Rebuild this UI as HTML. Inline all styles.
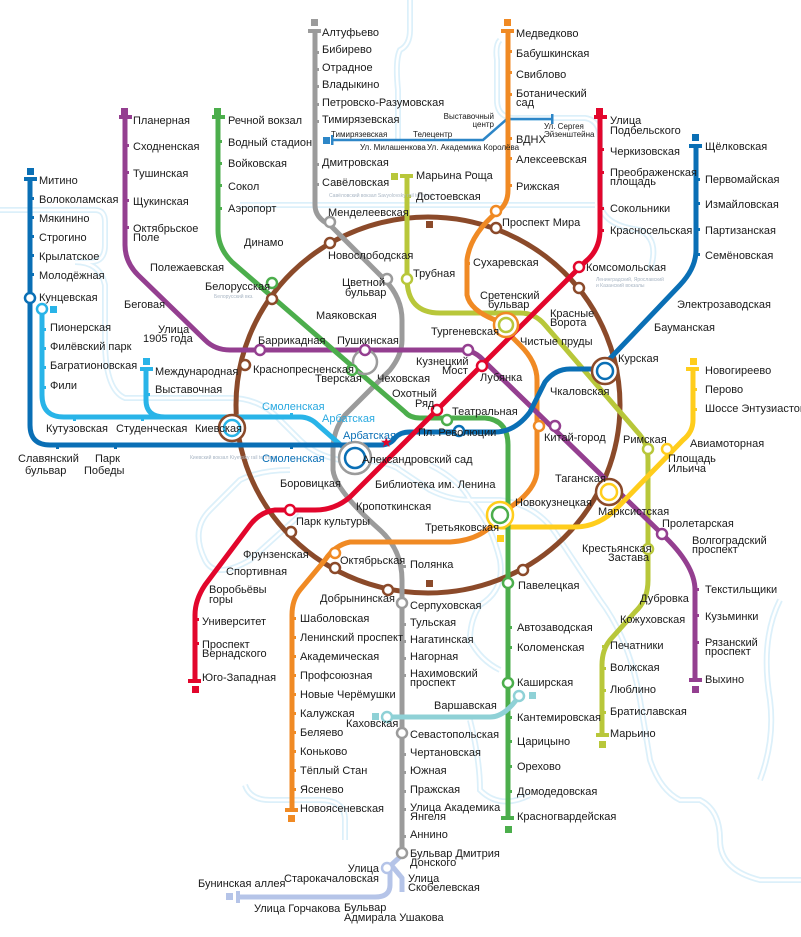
<!DOCTYPE html>
<html><head><meta charset="utf-8"><style>
html,body{margin:0;padding:0;background:#fff}
svg{display:block}
text{font-family:"Liberation Sans",sans-serif;font-size:11px;fill:#1a1a1a}
.s{font-size:8px}
.t{font-size:5px;fill:#a9b6c4}
.r{text-anchor:end}
.ln{fill:none;stroke-width:5;stroke-linejoin:round;stroke-linecap:butt}
.ic{fill:#fff;stroke-width:2.5}
</style></head><body>
<svg width="801" height="937" viewBox="0 0 801 937" xmlns="http://www.w3.org/2000/svg">
<defs>
<g id="riv">
<path d="M0,210 H95 Q105,210 105,222 V245 Q105,262 90,262 H75 Q100,262 105,285 V340 Q105,390 125,398 H230 Q260,398 280,420 L300,440 Q315,455 340,460 H360 Q390,462 400,470 L430,490 Q450,500 470,500 H500 Q540,505 560,540 L600,600 Q630,640 640,700 L650,760 Q660,790 680,800 H700 Q720,810 720,840 Q720,870 760,880 H801"/>
<path d="M290,470 Q260,470 240,480 L210,510 Q190,530 205,560 Q215,580 250,560 L300,515"/>
<path d="M410,0 V30 Q410,45 400,50 Q395,60 398,90 V140"/>
<path d="M500,40 Q495,45 497,60 V100 Q497,120 520,118 H585 Q600,120 600,140"/>
<path d="M595,205 H240"/>
<path d="M245,785 Q250,800 270,800 H320 Q345,800 345,820 V840"/>
<path d="M430,465 Q460,480 470,500 Q490,520 500,560 Q505,590 480,605 Q470,620 470,640 Q480,660 500,670"/>
<path d="M470,720 Q480,760 480,790 Q500,810 530,795"/>
<path d="M780,600 Q760,640 770,700 Q775,740 760,780"/>
<path d="M600,130 V200 Q600,225 640,230 Q660,240 650,270"/>
</g>
</defs>
<g fill="none" stroke="#dcf0fa" stroke-width="6"><use href="#riv"/></g>
<g fill="none" stroke="#ffffff" stroke-width="2.5"><use href="#riv"/></g>

<ellipse cx="428" cy="405" rx="192" ry="188" fill="none" stroke="#8b4a2a" stroke-width="5"/>

<path class="ln" style="stroke:#2d86c7;stroke-width:2.5" d="M333,140 H483 L507,119 H552"/>
<rect x="331" y="135" width="2.5" height="10" fill="#2d86c7"/>
<rect x="551" y="114" width="2.5" height="10" fill="#2d86c7"/>

<path class="ln" stroke="#9b9b9b" d="M315,32 V205 Q315,218 330,225 L385,280 Q402,298 402,320 V340 Q402,355 390,370 L345,415 Q333,430 333,450 V470 Q335,490 380,530 Q402,550 402,580 V855"/>
<path class="ln" stroke="#b8c73a" d="M407,177 V278 Q407,313 440,313 H520 Q535,313 545,325 L640,435 Q648,445 648,460 V580 Q648,600 635,612 L610,640 Q602,650 602,665 V735"/>
<path class="ln" stroke="#f08a24" d="M508,32 V190 Q508,205 497,212 Q470,235 467,260 V295 Q470,310 495,320 L520,345 Q537,362 537,380 V470 Q537,485 520,500 L500,515 Q485,540 450,542 H350 Q335,545 325,560 L300,590 Q292,600 292,615 V810"/>
<path class="ln" stroke="#943f90" d="M125,118 V245 Q125,262 138,275 L205,340 Q215,350 230,350 H462 Q475,350 485,362 L662,534 Q695,565 695,590 V680"/>
<path class="ln" stroke="#ffcd1c" d="M693,370 V420 Q693,432 683,440 L620,505 Q600,527 575,527 H500"/>
<path class="ln" stroke="#4cae4c" d="M218,118 V230 Q218,248 232,262 L405,412 Q410,418 420,418 H485 Q508,420 508,445 V818"/>
<path class="ln" stroke="#29b4e8" d="M42,308 V395 Q42,417 64,417 H300 Q310,417 318,425 L343,447 L355,460"/>
<path class="ln" stroke="#29b4e8" d="M146,370 V400 Q146,417 165,417"/>
<path class="ln" stroke="#0a6fb5" d="M30,180 V425 Q30,445 50,445 H380 Q390,445 395,438 Q400,432 410,432 H495 Q515,432 530,412 L545,382 Q555,369 570,369 H600 L680,285 Q696,268 696,250 V147"/>
<path class="ln" stroke="#e2062c" d="M600,118 V230 Q600,250 585,262 L437,410 L350,497 Q335,510 315,510 H275 Q260,512 250,525 L205,585 Q195,600 195,615 V680"/>
<path class="ln" stroke="#8fd1d6" d="M519,696 Q505,717 490,717 H387"/>
<path class="ln" stroke="#b5c4e8" d="M402,855 L390,866 V885 Q390,897 375,897 H238"/>
<path class="ln" stroke="#b5c4e8" d="M392,866 L402,878 V892"/>

<g>
<rect x="119" y="115" width="13" height="4" fill="#943f90"/>
<rect x="212" y="115" width="13" height="4" fill="#4cae4c"/>
<rect x="308" y="29" width="13" height="4" fill="#9b9b9b"/>
<rect x="501" y="29" width="13" height="4" fill="#f08a24"/>
<rect x="594" y="115" width="13" height="4" fill="#e2062c"/>
<rect x="689" y="144" width="13" height="4" fill="#0a6fb5"/>
<rect x="24" y="177" width="13" height="4" fill="#0a6fb5"/>
<rect x="400" y="174" width="13" height="4" fill="#b8c73a"/>
<rect x="140" y="367" width="13" height="4" fill="#29b4e8"/>
<rect x="686" y="367" width="13" height="4" fill="#ffcd1c"/>
<rect x="188" y="679" width="13" height="4" fill="#e2062c"/>
<rect x="285" y="808" width="13" height="4" fill="#f08a24"/>
<rect x="501" y="816" width="13" height="4" fill="#4cae4c"/>
<rect x="596" y="733" width="13" height="4" fill="#b8c73a"/>
<rect x="689" y="678" width="13" height="4" fill="#943f90"/>
<rect x="236" y="891" width="4" height="12" fill="#b5c4e8"/>
</g>
<g>
<rect x="311" y="19" width="7" height="7" fill="#9b9b9b"/>
<rect x="504" y="19" width="7" height="7" fill="#f08a24"/>
<rect x="121" y="108" width="7" height="7" fill="#943f90"/>
<rect x="214" y="108" width="7" height="7" fill="#4cae4c"/>
<rect x="596" y="108" width="7" height="7" fill="#e2062c"/>
<rect x="692" y="134" width="7" height="7" fill="#0a6fb5"/>
<rect x="27" y="168" width="7" height="7" fill="#0a6fb5"/>
<rect x="50" y="306" width="7" height="7" fill="#29b4e8"/>
<rect x="143" y="358" width="7" height="7" fill="#29b4e8"/>
<rect x="690" y="358" width="7" height="7" fill="#ffcd1c"/>
<rect x="391" y="173" width="7" height="7" fill="#b8c73a"/>
<rect x="426" y="221" width="7" height="7" fill="#8b4a2a"/>
<rect x="426" y="580" width="7" height="7" fill="#8b4a2a"/>
<rect x="497" y="535" width="7" height="7" fill="#ffcd1c"/>
<rect x="192" y="686" width="7" height="7" fill="#e2062c"/>
<rect x="288" y="815" width="7" height="7" fill="#f08a24"/>
<rect x="505" y="826" width="7" height="7" fill="#4cae4c"/>
<rect x="599" y="741" width="7" height="7" fill="#b8c73a"/>
<rect x="692" y="686" width="7" height="7" fill="#943f90"/>
<rect x="529" y="692" width="7" height="7" fill="#8fd1d6"/>
<rect x="372" y="713" width="7" height="7" fill="#8fd1d6"/>
<rect x="226" y="893" width="7" height="7" fill="#b5c4e8"/>
<rect x="323" y="137" width="7" height="7" fill="#2d86c7"/>
</g>

<g fill="#9b9b9b"><rect x="315" y="51" width="4" height="3"/><rect x="315" y="68" width="4" height="3"/><rect x="315" y="85" width="4" height="3"/><rect x="315" y="103" width="4" height="3"/><rect x="315" y="120" width="4" height="3"/><rect x="315" y="163" width="4" height="3"/><rect x="315" y="183" width="4" height="3"/><rect x="402" y="565" width="4" height="3"/><rect x="402" y="623" width="4" height="3"/><rect x="402" y="640" width="4" height="3"/><rect x="402" y="657" width="4" height="3"/><rect x="402" y="674" width="4" height="3"/><rect x="402" y="753" width="4" height="3"/><rect x="402" y="771" width="4" height="3"/><rect x="402" y="790" width="4" height="3"/><rect x="402" y="808" width="4" height="3"/><rect x="402" y="835" width="4" height="3"/></g>
<g fill="#f08a24"><rect x="508" y="50" width="4" height="3"/><rect x="508" y="71" width="4" height="3"/><rect x="508" y="93" width="4" height="3"/><rect x="508" y="137" width="4" height="3"/><rect x="508" y="157" width="4" height="3"/><rect x="508" y="184" width="4" height="3"/><rect x="466" y="262" width="4" height="3"/><rect x="292" y="617" width="4" height="3"/><rect x="292" y="636" width="4" height="3"/><rect x="292" y="655" width="4" height="3"/><rect x="292" y="674" width="4" height="3"/><rect x="292" y="693" width="4" height="3"/><rect x="292" y="712" width="4" height="3"/><rect x="292" y="731" width="4" height="3"/><rect x="292" y="750" width="4" height="3"/><rect x="292" y="769" width="4" height="3"/><rect x="292" y="788" width="4" height="3"/></g>
<g fill="#e2062c"><rect x="600" y="148" width="4" height="3"/><rect x="600" y="171" width="4" height="3"/><rect x="600" y="207" width="4" height="3"/><rect x="600" y="229" width="4" height="3"/><rect x="195" y="618" width="4" height="3"/><rect x="195" y="642" width="4" height="3"/></g>
<g fill="#0a6fb5"><rect x="30" y="197" width="4" height="3"/><rect x="30" y="216" width="4" height="3"/><rect x="30" y="235" width="4" height="3"/><rect x="30" y="254" width="4" height="3"/><rect x="30" y="273" width="4" height="3"/><rect x="696" y="178" width="4" height="3"/><rect x="696" y="202" width="4" height="3"/><rect x="696" y="228" width="4" height="3"/><rect x="696" y="253" width="4" height="3"/><rect x="56" y="445" width="3" height="4"/><rect x="114" y="445" width="3" height="4"/><rect x="290" y="445" width="3" height="4"/></g>
<g fill="#943f90"><rect x="125" y="144" width="4" height="3"/><rect x="125" y="171" width="4" height="3"/><rect x="125" y="199" width="4" height="3"/><rect x="125" y="226" width="4" height="3"/><rect x="695" y="588" width="4" height="3"/><rect x="695" y="614" width="4" height="3"/><rect x="695" y="641" width="4" height="3"/></g>
<g fill="#4cae4c"><rect x="218" y="140" width="4" height="3"/><rect x="218" y="162" width="4" height="3"/><rect x="218" y="184" width="4" height="3"/><rect x="218" y="207" width="4" height="3"/><rect x="508" y="626" width="4" height="3"/><rect x="508" y="646" width="4" height="3"/><rect x="508" y="716" width="4" height="3"/><rect x="508" y="740" width="4" height="3"/><rect x="508" y="765" width="4" height="3"/><rect x="508" y="790" width="4" height="3"/></g>
<g fill="#b8c73a"><rect x="407" y="195" width="4" height="3"/><rect x="602" y="645" width="4" height="3"/><rect x="602" y="667" width="4" height="3"/><rect x="602" y="689" width="4" height="3"/><rect x="602" y="711" width="4" height="3"/></g>
<g fill="#29b4e8"><rect x="42" y="328" width="4" height="3"/><rect x="42" y="347" width="4" height="3"/><rect x="42" y="366" width="4" height="3"/><rect x="42" y="386" width="4" height="3"/><rect x="146" y="393" width="4" height="3"/><rect x="73" y="417" width="3" height="4"/><rect x="141" y="417" width="3" height="4"/><rect x="290" y="413" width="3" height="4"/></g>
<g fill="#ffcd1c"><rect x="693" y="388" width="4" height="3"/><rect x="693" y="408" width="4" height="3"/></g>

<g class="ic">
<circle cx="30" cy="298" r="5" stroke="#0a6fb5"/><circle cx="42" cy="309" r="5" stroke="#29b4e8"/>
<circle cx="272" cy="283" r="5" stroke="#4cae4c"/><circle cx="272" cy="299" r="5" stroke="#8b4a2a"/>
<circle cx="330" cy="222" r="5" stroke="#9b9b9b"/><circle cx="330" cy="243" r="5" stroke="#8b4a2a"/>
<circle cx="387" cy="279" r="5" stroke="#9b9b9b"/><circle cx="407" cy="279" r="5" stroke="#b8c73a"/>
<circle cx="260" cy="350" r="5" stroke="#943f90"/><circle cx="245" cy="365" r="5" stroke="#8b4a2a"/>
<circle cx="365" cy="362" r="12" stroke="#9b9b9b" fill="none"/><circle cx="365" cy="350" r="5" stroke="#943f90"/><circle cx="352" cy="370" r="5" stroke="#4cae4c"/>
<circle cx="232" cy="428" r="13" stroke="#8b4a2a"/><circle cx="232" cy="428" r="8" stroke="#29b4e8" fill="none"/>
<circle cx="355" cy="458" r="16" stroke="#9b9b9b"/><circle cx="355" cy="458" r="10" stroke="#0a6fb5" fill="none"/>
<circle cx="468" cy="350" r="5" stroke="#943f90"/><circle cx="482" cy="366" r="5" stroke="#e2062c"/>
<circle cx="437" cy="410" r="5" stroke="#e2062c"/><circle cx="447" cy="420" r="5" stroke="#4cae4c"/><circle cx="459" cy="431" r="5" stroke="#0a6fb5"/>
<circle cx="506" cy="325" r="12" stroke="#f08a24"/><circle cx="506" cy="325" r="7" stroke="#b8c73a" fill="none"/>
<circle cx="496" cy="211" r="5" stroke="#f08a24"/><circle cx="496" cy="228" r="5" stroke="#8b4a2a"/>
<circle cx="579" cy="267" r="5" stroke="#e2062c"/><circle cx="579" cy="288" r="5" stroke="#8b4a2a"/>
<circle cx="605" cy="371" r="13" stroke="#8b4a2a"/><circle cx="605" cy="371" r="8" stroke="#0a6fb5" fill="none"/>
<circle cx="539" cy="426" r="5" stroke="#f08a24"/><circle cx="555" cy="426" r="5" stroke="#943f90"/>
<circle cx="648" cy="449" r="5" stroke="#b8c73a"/><circle cx="667" cy="449" r="5" stroke="#ffcd1c"/>
<circle cx="609" cy="492" r="13" stroke="#8b4a2a"/><circle cx="609" cy="492" r="8" stroke="#ffcd1c" fill="none"/>
<circle cx="500" cy="515" r="13" stroke="#ffcd1c"/><circle cx="500" cy="515" r="8" stroke="#4cae4c" fill="none"/>
<circle cx="662" cy="534" r="5" stroke="#943f90"/><circle cx="648" cy="549" r="5" stroke="#b8c73a"/>
<circle cx="290" cy="510" r="5" stroke="#e2062c"/><circle cx="291" cy="532" r="5" stroke="#8b4a2a"/>
<circle cx="335" cy="553" r="5" stroke="#f08a24"/><circle cx="335" cy="568" r="5" stroke="#8b4a2a"/>
<circle cx="388" cy="590" r="5" stroke="#8b4a2a"/><circle cx="402" cy="603" r="5" stroke="#9b9b9b"/>
<circle cx="508" cy="583" r="5" stroke="#4cae4c"/><circle cx="523" cy="570" r="5" stroke="#8b4a2a"/>
<circle cx="508" cy="683" r="5" stroke="#4cae4c"/><circle cx="519" cy="696" r="5" stroke="#8fd1d6"/>
<circle cx="387" cy="717" r="5" stroke="#8fd1d6"/><circle cx="402" cy="733" r="5" stroke="#9b9b9b"/>
<circle cx="402" cy="853" r="5" stroke="#9b9b9b"/><circle cx="387" cy="868" r="5" stroke="#b5c4e8"/>
</g>
<text x="380" y="447" style="fill:#e2062c;font-size:14px">★</text>

<g>
<text x="322" y="36">Алтуфьево</text><text x="322" y="53">Бибирево</text><text x="322" y="71">Отрадное</text><text x="322" y="88">Владыкино</text><text x="322" y="106">Петровско-Разумовская</text><text x="322" y="123">Тимирязевская</text>
<text x="331" y="137" class="s">Тимирязевская</text><text x="360" y="150" class="s">Ул. Милашенкова</text>
<text x="322" y="166">Дмитровская</text><text x="322" y="186">Савёловская</text>
<text x="329" y="197" class="t">Савёловский вокзал  Savyolovsky rail terminal</text>
<text x="328" y="216">Менделеевская</text><text x="328" y="259">Новослободская</text>
<text x="342" y="286">Цветной</text><text x="345" y="296">бульвар</text>
<text x="316" y="319">Маяковская</text><text x="337" y="344">Пушкинская</text><text x="315" y="382">Тверская</text><text x="377" y="382">Чеховская</text>
<text x="258" y="344">Баррикадная</text><text x="253" y="373">Краснопресненская</text>
<text x="205" y="290">Белорусская</text><text x="214" y="298" class="t">Белорусский вкз.</text>
<text x="124" y="308">Беговая</text><text x="158" y="333">Улица</text><text x="143" y="342">1905 года</text>
<text x="150" y="271">Полежаевская</text><text x="244" y="246">Динамо</text>
<text x="133" y="124">Планерная</text><text x="133" y="150">Сходненская</text><text x="133" y="177">Тушинская</text><text x="133" y="205">Щукинская</text><text x="133" y="232">Октябрьское</text><text x="133" y="241">Поле</text>
<text x="228" y="124">Речной вокзал</text><text x="228" y="146">Водный стадион</text><text x="228" y="167">Войковская</text><text x="228" y="190">Сокол</text><text x="228" y="212">Аэропорт</text>
<text x="39" y="184">Митино</text><text x="39" y="203">Волоколамская</text><text x="39" y="222">Мякинино</text><text x="39" y="241">Строгино</text><text x="39" y="260">Крылатское</text><text x="39" y="279">Молодёжная</text><text x="39" y="301">Кунцевская</text>
<text x="50" y="331">Пионерская</text><text x="50" y="350">Филёвский парк</text><text x="50" y="369">Багратионовская</text><text x="50" y="389">Фили</text>
<text x="155" y="375">Международная</text><text x="155" y="393">Выставочная</text>
<text x="46" y="432">Кутузовская</text><text x="116" y="432">Студенческая</text><text x="195" y="432">Киевская</text>
<text x="190" y="459" class="t">Киевский вокзал Kiyevsky rail terminal</text>
<text x="262" y="410" style="fill:#29a9e0">Смоленская</text><text x="322" y="422" style="fill:#29a9e0">Арбатская</text>
<text x="343" y="439" style="fill:#0a6fb5">Арбатская</text><text x="262" y="462" style="fill:#0a6fb5">Смоленская</text>
<text x="18" y="462">Славянский</text><text x="25" y="474">бульвар</text><text x="95" y="462">Парк</text><text x="84" y="474">Победы</text>
<text x="362" y="463">Александровский сад</text><text x="280" y="487">Боровицкая</text><text x="375" y="488">Библиотека им. Ленина</text><text x="356" y="510">Кропоткинская</text>
<text x="296" y="525">Парк культуры</text><text x="243" y="558">Фрунзенская</text><text x="226" y="575">Спортивная</text><text x="209" y="593">Воробьёвы</text><text x="209" y="603">горы</text>
<text x="202" y="625">Университет</text><text x="202" y="648">Проспект</text><text x="202" y="657">Вернадского</text><text x="202" y="681">Юго-Западная</text>
<text x="340" y="564">Октябрьская</text><text x="320" y="602">Добрынинская</text><text x="410" y="568">Полянка</text>
<text x="300" y="622">Шаболовская</text><text x="300" y="641">Ленинский проспект</text><text x="300" y="660">Академическая</text><text x="300" y="679">Профсоюзная</text><text x="300" y="698">Новые Черёмушки</text><text x="300" y="717">Калужская</text><text x="300" y="736">Беляево</text><text x="300" y="755">Коньково</text><text x="300" y="774">Тёплый Стан</text><text x="300" y="793">Ясенево</text><text x="300" y="812">Новоясеневская</text>
<text x="346" y="727">Каховская</text>
<text x="198" y="887">Бунинская аллея</text><text x="254" y="912">Улица Горчакова</text><text x="344" y="911">Бульвар</text><text x="344" y="921">Адмирала Ушакова</text>
<text x="379" y="872" class="r">Улица</text><text x="379" y="882" class="r">Старокачаловская</text>
<text x="516" y="37">Медведково</text><text x="516" y="57">Бабушкинская</text><text x="516" y="78">Свиблово</text><text x="516" y="97">Ботанический</text><text x="516" y="106">сад</text>
<text x="494" y="119" class="s r">Выставочный</text><text x="494" y="127" class="s r">центр</text><text x="413" y="137" class="s">Телецентр</text><text x="427" y="150" class="s">Ул. Академика Королёва</text>
<text x="544" y="129" class="s">Ул. Сергея</text><text x="544" y="137" class="s">Эйзенштейна</text>
<text x="516" y="143">ВДНХ</text><text x="516" y="163">Алексеевская</text><text x="516" y="190">Рижская</text><text x="502" y="226">Проспект Мира</text>
<text x="610" y="124">Улица</text><text x="610" y="134">Подбельского</text><text x="610" y="155">Черкизовская</text><text x="610" y="176">Преображенская</text><text x="610" y="185">площадь</text><text x="610" y="212">Сокольники</text><text x="610" y="234">Красносельская</text><text x="586" y="271">Комсомольская</text>
<text x="596" y="281" class="t">Ленинградский, Ярославский</text><text x="596" y="287" class="t">и Казанский вокзалы</text>
<text x="705" y="150">Щёлковская</text><text x="705" y="183">Первомайская</text><text x="705" y="208">Измайловская</text><text x="705" y="234">Партизанская</text><text x="705" y="259">Семёновская</text>
<text x="677" y="308">Электрозаводская</text><text x="654" y="331">Бауманская</text>
<text x="416" y="179">Марьина Роща</text><text x="416" y="200">Достоевская</text>
<text x="413" y="277">Трубная</text><text x="473" y="266">Сухаревская</text><text x="480" y="299">Сретенский</text><text x="488" y="308">бульвар</text>
<text x="431" y="335">Тургеневская</text><text x="550" y="317">Красные</text><text x="550" y="326">Ворота</text><text x="520" y="345">Чистые пруды</text>
<text x="416" y="365">Кузнецкий</text><text x="442" y="374">Мост</text><text x="480" y="381">Лубянка</text><text x="392" y="397">Охотный</text><text x="415" y="407">Ряд</text>
<text x="452" y="415">Театральная</text><text x="418" y="436">Пл. Революции</text>
<text x="618" y="362">Курская</text><text x="550" y="395">Чкаловская</text><text x="544" y="441">Китай-город</text><text x="623" y="443">Римская</text><text x="690" y="447">Авиамоторная</text><text x="668" y="462">Площадь</text><text x="668" y="472">Ильича</text>
<text x="705" y="374">Новогиреево</text><text x="705" y="393">Перово</text><text x="705" y="412">Шоссе Энтузиастов</text>
<text x="555" y="482">Таганская</text><text x="515" y="506">Новокузнецкая</text><text x="598" y="515">Марксистская</text><text x="425" y="531">Третьяковская</text>
<text x="662" y="527">Пролетарская</text><text x="692" y="544">Волгоградский</text><text x="692" y="553">проспект</text><text x="582" y="552">Крестьянская</text><text x="608" y="561">Застава</text>
<text x="518" y="589">Павелецкая</text>
<text x="410" y="609">Серпуховская</text><text x="410" y="626">Тульская</text><text x="410" y="643">Нагатинская</text><text x="410" y="660">Нагорная</text><text x="410" y="677">Нахимовский</text><text x="410" y="686">проспект</text><text x="434" y="709">Варшавская</text>
<text x="410" y="738">Севастопольская</text><text x="410" y="756">Чертановская</text><text x="410" y="774">Южная</text><text x="410" y="793">Пражская</text><text x="410" y="811">Улица Академика</text><text x="410" y="820">Янгеля</text><text x="410" y="838">Аннино</text><text x="410" y="857">Бульвар Дмитрия</text><text x="410" y="866">Донского</text>
<text x="408" y="882">Улица</text><text x="408" y="891">Скобелевская</text>
<text x="517" y="631">Автозаводская</text><text x="517" y="651">Коломенская</text><text x="517" y="686">Каширская</text><text x="517" y="721">Кантемировская</text><text x="517" y="745">Царицыно</text><text x="517" y="770">Орехово</text><text x="517" y="795">Домодедовская</text><text x="517" y="820">Красногвардейская</text>
<text x="640" y="602">Дубровка</text><text x="620" y="623">Кожуховская</text><text x="610" y="649">Печатники</text><text x="610" y="671">Волжская</text><text x="610" y="693">Люблино</text><text x="610" y="715">Братиславская</text><text x="610" y="737">Марьино</text>
<text x="705" y="593">Текстильщики</text><text x="705" y="620">Кузьминки</text><text x="705" y="646">Рязанский</text><text x="705" y="655">проспект</text><text x="705" y="683">Выхино</text>
</g>
</svg>
</body></html>
